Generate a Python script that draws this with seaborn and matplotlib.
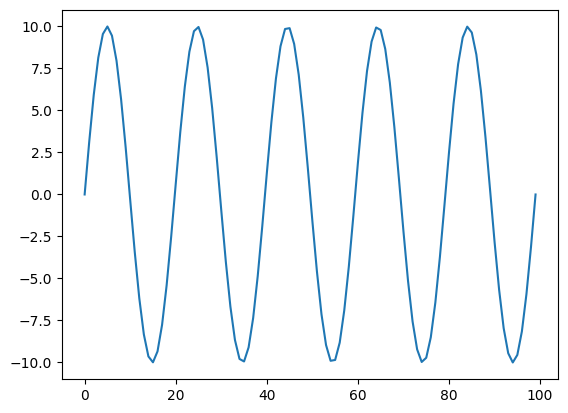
import matplotlib
matplotlib.use("Agg")
import matplotlib.pyplot as plt
import seaborn as sns

# values (x = 0..99)
x_vals = list(range(100))
y_vals = [
    0.0, 3.12, 5.93, 8.15, 9.55, 10.0, 9.45, 7.96, 5.67, 2.82,
    -0.32, -3.42, -6.18, -8.33, -9.64, -9.99, -9.34, -7.76, -5.41, -2.51,
    0.63, 3.72, 6.43, 8.50, 9.72, 9.97, 9.22, 7.56, 5.14, 2.20,
    -0.95, -4.01, -6.67, -8.66, -9.79, -9.94, -9.10, -7.35, -4.86, -1.89,
    1.27, 4.30, 6.90, 8.82, 9.85, 9.90, 8.96, 7.13, 4.58, 1.58,
    -1.58, -4.58, -7.13, -8.96, -9.90, -9.85, -8.82, -6.90, -4.30, -1.27,
    1.89, 4.86, 7.35, 9.10, 9.94, 9.79, 8.66, 6.67, 4.01, 0.95,
    -2.20, -5.14, -7.56, -9.22, -9.97, -9.72, -8.50, -6.43, -3.72, -0.63,
    2.51, 5.41, 7.76, 9.34, 9.99, 9.64, 8.33, 6.18, 3.42, 0.32,
    -2.82, -5.67, -7.96, -9.45, -10.0, -9.55, -8.15, -5.93, -3.12, 0.0,
]

fig, ax = plt.subplots(figsize=(6.4, 4.8), dpi=100)
sns.lineplot(x=x_vals, y=y_vals, ax=ax, color="#1f77b4")

plt.savefig("out.png", bbox_inches="tight")
